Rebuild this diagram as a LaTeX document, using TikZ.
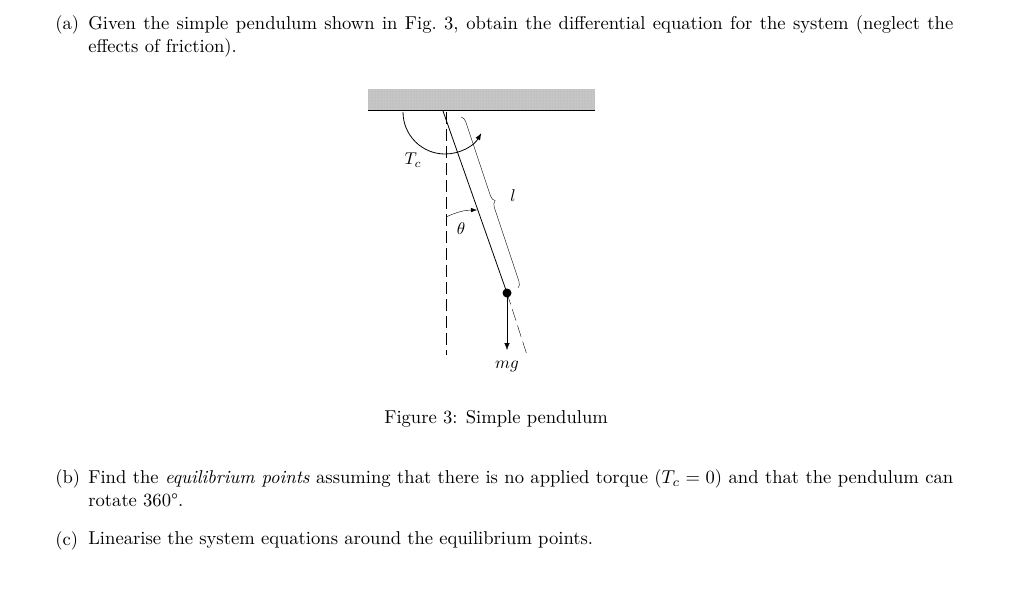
\documentclass[tikz,border=0pt]{standalone}
\usetikzlibrary{decorations.pathreplacing,arrows.meta,patterns}
\begin{document}
\begin{tikzpicture}[x=1pt,y=-1pt,
  txt/.style={anchor=north west,inner sep=0pt,align=justify,scale=1.86,transform shape,font=\fontsize{10}{12.4}\selectfont},
  lbl/.style={inner sep=0pt,scale=1.7,transform shape,font=\fontsize{10}{12}\selectfont}]
\useasboundingbox (0,0) rectangle (1024,605);
% texts
\node[txt] (la) at (55,15) {(a)};
\node[txt,text width=465pt] (ta) at (88,15) {Given the simple pendulum shown in Fig.~3, obtain the differential equation for the system (neglect the effects of friction).};
\node[txt] (cap) at (384,410) {Figure 3: Simple pendulum};
\node[txt] (lb) at (55,469) {(b)};
\node[txt,text width=465pt] (tb) at (88,469) {Find the \emph{equilibrium points} assuming that there is no applied torque ($T_c=0$) and that the pendulum can rotate 360\textdegree.};
\node[txt] (lc) at (55,531) {(c)};
\node[txt] (tc) at (88,531) {Linearise the system equations around the equilibrium points.};
% ceiling
\fill[gray!45] (368,89) rectangle (595,110);
\fill[pattern=dots,pattern color=gray!70] (368,89) rectangle (595,110);
\draw[line width=1pt] (368,110.5) -- (595,110.5);
% pendulum
\coordinate (piv) at (443,111);
\coordinate (bob) at (507,293);
\draw[dashed,dash pattern=on 12pt off 5pt] (446,112) -- (446,355);
\draw[thick] (piv) -- (bob);
\draw[dashed,dash pattern=on 12pt off 5pt] (bob) -- (527,355);
\fill (bob) circle (4.5);
\draw[-{Latex[length=7pt]}] (bob) -- (507,350);
\node[lbl] (mg) at (507,366) {$mg$};
\draw[decorate,decoration={brace,amplitude=6pt,mirror}] (518,288) -- (461,117);
\node[lbl] (l) at (513,196) {$l$};
\draw[-{Latex[length=6pt]}] (446,217) to[bend left=12] (477,210);
\node[lbl] (th) at (461,229) {$\theta$};
\draw[thick,-{Latex[length=7pt]}] (403,112) arc[start angle=180,end angle=30,radius=42];
\node[lbl] (tcl) at (413,160) {$T_c$};
\end{tikzpicture}
\end{document}
